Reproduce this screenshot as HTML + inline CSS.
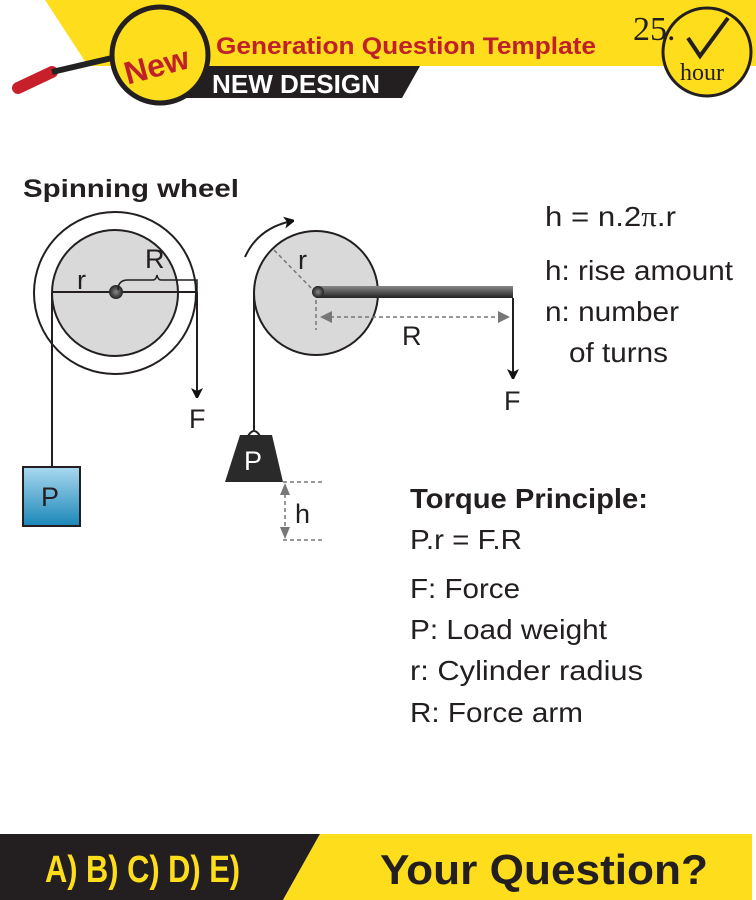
<!DOCTYPE html>
<html><head><meta charset="utf-8"><style>
html,body{margin:0;padding:0;background:#fff;}
svg{display:block;}
text{font-family:"Liberation Sans",sans-serif;}
</style></head><body>
<svg width="756" height="900" viewBox="0 0 756 900" xmlns="http://www.w3.org/2000/svg">
<defs>
<linearGradient id="blue" x1="0" y1="0" x2="0" y2="1"><stop offset="0" stop-color="#a9d8ef"/><stop offset="1" stop-color="#1b87b8"/></linearGradient>
<linearGradient id="rod" x1="0" y1="0" x2="0" y2="1"><stop offset="0" stop-color="#888"/><stop offset="0.5" stop-color="#555"/><stop offset="1" stop-color="#222"/></linearGradient>
<radialGradient id="dot"><stop offset="0" stop-color="#888"/><stop offset="1" stop-color="#222"/></radialGradient>
<marker id="ah" markerWidth="10" markerHeight="12" refX="8" refY="6" orient="auto" markerUnits="userSpaceOnUse"><path d="M0,0 L12,6 L0,12 L3,6Z" fill="#111"/></marker>
</defs>
<!-- header -->
<polygon points="45,0 756,0 756,66 88,66" fill="#fedd1c"/>
<polygon points="185,66 420,66 402,98 185,98" fill="#231f20"/>
<text x="212" y="93" font-size="26" fill="#fff" font-weight="bold" textLength="168" lengthAdjust="spacingAndGlyphs">NEW DESIGN</text>
<text x="216" y="54" font-size="24" fill="#c0202a" font-weight="bold" textLength="380" lengthAdjust="spacingAndGlyphs">Generation Question Template</text>
<line x1="18" y1="88" x2="52" y2="72" stroke="#c8202a" stroke-width="12" stroke-linecap="round"/>
<line x1="52" y1="72" x2="112" y2="58" stroke="#222" stroke-width="6"/>
<circle cx="160" cy="55" r="48" fill="#fedd1c" stroke="#231f20" stroke-width="5"/>
<text x="122" y="78" font-size="32" fill="#c0202a" font-weight="bold" transform="rotate(-15 150 60)">New</text>
<circle cx="707" cy="52" r="44" fill="#fedd1c" stroke="#231f20" stroke-width="3"/>
<text x="633" y="40" font-size="34" fill="#231f20" style="font-family:'Liberation Serif',serif">25.</text>
<text x="680" y="80" font-size="24" fill="#231f20" style="font-family:'Liberation Serif',serif">hour</text>
<path d="M688,38 L700,56 L728,18" stroke="#231f20" stroke-width="4" fill="none"/>
<!-- texts -->
<text x="23" y="197" font-size="25" font-weight="bold" fill="#231f20" textLength="216" lengthAdjust="spacingAndGlyphs">Spinning wheel</text>
<g font-size="28" fill="#231f20">
<text x="545" y="226" textLength="131" lengthAdjust="spacingAndGlyphs">h = n.2<tspan style="font-family:'Liberation Serif',serif">π</tspan>.r</text>
<text x="545" y="280" textLength="188" lengthAdjust="spacingAndGlyphs">h: rise amount</text>
<text x="545" y="321" textLength="134" lengthAdjust="spacingAndGlyphs">n: number</text>
<text x="569" y="362" textLength="99" lengthAdjust="spacingAndGlyphs">of turns</text>
<text x="410" y="508" font-weight="bold" textLength="238" lengthAdjust="spacingAndGlyphs">Torque Principle:</text>
<text x="410" y="549" textLength="112" lengthAdjust="spacingAndGlyphs">P.r = F.R</text>
<text x="410" y="598" textLength="110" lengthAdjust="spacingAndGlyphs">F: Force</text>
<text x="410" y="639" textLength="197" lengthAdjust="spacingAndGlyphs">P: Load weight</text>
<text x="410" y="680" textLength="233" lengthAdjust="spacingAndGlyphs">r:  Cylinder radius</text>
<text x="410" y="722" textLength="173" lengthAdjust="spacingAndGlyphs">R: Force arm</text>
</g>
<!-- left wheel -->
<circle cx="115" cy="293" r="81" fill="#fff" stroke="#231f20" stroke-width="2"/>
<circle cx="115" cy="293" r="63" fill="#d9d9d9" stroke="#231f20" stroke-width="2"/>
<line x1="52" y1="292" x2="197" y2="292" stroke="#231f20" stroke-width="2"/>
<circle cx="116" cy="292" r="7" fill="url(#dot)"/>
<path d="M118,290 q0,-10 10,-10 h25 q3,0 4,-5 q1,5 4,5 h36 v12" stroke="#231f20" stroke-width="1.5" fill="none"/>
<text x="145" y="268" font-size="27" fill="#231f20">R</text>
<text x="77" y="289" font-size="27" fill="#231f20">r</text>
<line x1="52" y1="292" x2="52" y2="467" stroke="#231f20" stroke-width="2"/>
<line x1="197" y1="292" x2="197" y2="396" stroke="#231f20" stroke-width="2" marker-end="url(#ah)"/>
<text x="189" y="428" font-size="27" fill="#231f20">F</text>
<rect x="23" y="467" width="57" height="59" fill="url(#blue)" stroke="#231f20" stroke-width="2"/>
<text x="41" y="506" font-size="27" fill="#231f20">P</text>
<!-- right wheel -->
<circle cx="316" cy="293" r="62" fill="#d9d9d9" stroke="#231f20" stroke-width="2"/>
<line x1="316" y1="293" x2="274" y2="250" stroke="#777" stroke-width="1.5" stroke-dasharray="4,3"/>
<text x="298" y="269" font-size="27" fill="#231f20">r</text>
<rect x="316" y="286" width="197" height="12" fill="url(#rod)"/>
<circle cx="318" cy="292" r="6" fill="url(#dot)"/>
<line x1="316" y1="300" x2="316" y2="330" stroke="#777" stroke-width="1.5" stroke-dasharray="4,3"/>
<line x1="330" y1="317" x2="500" y2="317" stroke="#777" stroke-width="1.5" stroke-dasharray="4,3"/>
<path d="M320,317 l12,-6 l0,12z M510,317 l-12,-6 l0,12z" fill="#777"/>
<text x="402" y="345" font-size="27" fill="#231f20">R</text>
<line x1="513" y1="298" x2="513" y2="377" stroke="#231f20" stroke-width="2" marker-end="url(#ah)"/>
<text x="504" y="410" font-size="27" fill="#231f20">F</text>
<path d="M245,257 Q258,228 292,221" stroke="#231f20" stroke-width="2" fill="none" marker-end="url(#ah)"/>
<line x1="254" y1="293" x2="254" y2="430" stroke="#231f20" stroke-width="2"/>
<path d="M248,436 q6,-10 12,0" stroke="#231f20" stroke-width="2" fill="none"/>
<polygon points="240,435 272,435 283,482 225,482" fill="#2a2a2a"/>
<text x="244" y="470" font-size="27" fill="#fff">P</text>
<line x1="283" y1="482" x2="325" y2="482" stroke="#777" stroke-width="1.5" stroke-dasharray="4,3"/>
<line x1="283" y1="540" x2="325" y2="540" stroke="#777" stroke-width="1.5" stroke-dasharray="4,3"/>
<line x1="285" y1="494" x2="285" y2="528" stroke="#777" stroke-width="1.5" stroke-dasharray="4,3"/>
<path d="M285,483 l-5,12 h10z M285,539 l-5,-12 h10z" fill="#777"/>
<text x="295" y="523" font-size="27" fill="#231f20">h</text>
<!-- footer -->
<polygon points="0,834 320,834 283,900 0,900" fill="#231f20"/>
<polygon points="320,834 752,834 752,900 283,900" fill="#fedd1c"/>
<text x="45" y="882" font-size="38" font-weight="bold" fill="#fedd1c" textLength="195" lengthAdjust="spacingAndGlyphs">A) B) C) D) E)</text>
<text x="380" y="884" font-size="42" font-weight="bold" fill="#231f20" textLength="328" lengthAdjust="spacingAndGlyphs">Your Question?</text>
</svg>
</body></html>
